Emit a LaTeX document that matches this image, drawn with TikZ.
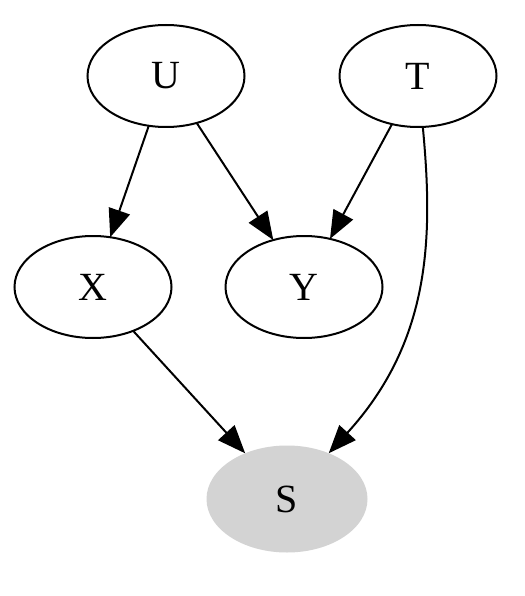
\documentclass[tikz,border=0pt]{standalone}
\usepackage{fontspec}
\setmainfont{Liberation Serif}
\usetikzlibrary{shapes.geometric,arrows.meta}
\definecolor{nodegray}{RGB}{211,211,211}
\begin{document}
\begin{tikzpicture}[x=1pt,y=-1pt,
  vnode/.style={ellipse,draw=black,line width=2pt,minimum width=157pt,minimum height=102pt,inner sep=0pt,outer sep=0pt,font=\fontsize{40}{40}\selectfont},
  snode/.style={ellipse,fill=nodegray,minimum width=161pt,minimum height=107pt,inner sep=0pt,outer sep=0pt,font=\fontsize{40}{40}\selectfont},
  edge/.style={line width=2pt,-{Triangle[length=28pt,width=22pt]}}]
\useasboundingbox (0,0) rectangle (524,596);
\node[vnode] (U) at (166,76) {U};
\node[vnode] (T) at (418,76) {T};
\node[vnode] (X) at (93,287) {X};
\node[vnode] (Y) at (304,287) {Y};
\node[snode] (S) at (287,499) {S};
\draw[edge] (U) -- (X);
\draw[edge] (U) -- (Y);
\draw[edge] (T) -- (Y);
\draw[edge] (X) -- (S);
\draw[edge] (T) .. controls (433,235) and (432,340) .. (S);
\end{tikzpicture}
\end{document}
